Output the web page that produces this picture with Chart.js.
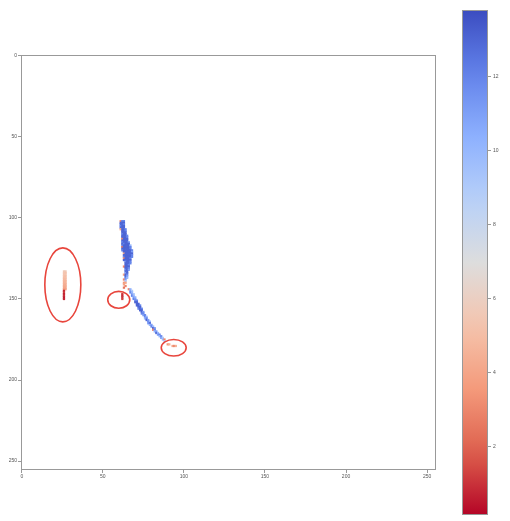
<!DOCTYPE html>
<html>
<head>
<meta charset="utf-8">
<script src="https://cdn.jsdelivr.net/npm/chart.js@4"></script>
<style>
  html, body { margin: 0; padding: 0; background: #fff; }
  #wrap { position: relative; width: 510px; height: 521px; }
  #main { position: absolute; left: 0; top: 0; }
  #bar { position: absolute; left: 440px; top: 0; }
</style>
</head>
<body>
<div id="wrap">
  <canvas id="main" width="440" height="521"></canvas>
  <canvas id="bar" width="70" height="521"></canvas>
</div>
<script>
// image pixels as [col, row, value]
const mainStreak = [
  [61,102,3],[62,102,12],[63,102,12],
  [61,103,13],[62,103,13],[63,103,13],
  [61,104,13],[62,104,13],[63,104,12],
  [61,105,12],[62,105,13],[63,105,13],
  [61,106,13],[62,106,13],[63,106,13],
  [61,107,4],[62,107,13],[63,107,13],[64,107,12],
  [62,108,13],[63,108,13],[64,108,12],
  [62,109,13],[63,109,13],[64,109,13],
  [62,110,12],[63,110,13],[64,110,13],
  [62,111,13],[63,111,13],[64,111,13],[65,111,12],
  [62,112,13],[63,112,13],[64,112,13],[65,112,12],
  [62,113,3],[63,113,13],[64,113,13],[65,113,13],
  [62,114,13],[63,114,13],[64,114,13],[65,114,13],
  [62,115,12],[63,115,13],[64,115,13],[65,115,13],[66,115,11],
  [62,116,13],[63,116,12],[64,116,13],[65,116,13],[66,116,13],
  [62,117,12],[63,117,13],[64,117,13],[65,117,13],[66,117,13],[67,117,10],
  [62,118,2.5],[63,118,13],[64,118,13],[65,118,13],[66,118,13],[67,118,12],
  [62,119,13],[63,119,13],[64,119,13],[65,119,13],[66,119,13],[67,119,12],
  [62,120,12],[63,120,13],[64,120,13],[65,120,13],[66,120,13],[67,120,13],[68,120,12],
  [63,121,13],[64,121,13],[65,121,13],[66,121,13],[67,121,13],[68,121,11],
  [63,122,4],[64,122,13],[65,122,13],[66,122,13],[67,122,13],[68,122,13],
  [63,123,13],[64,123,13],[65,123,13],[66,123,13],[67,123,13],[68,123,12],
  [63,124,12],[64,124,13],[65,124,13],[66,124,13],[67,124,13],[68,124,12],
  [63,125,3],[64,125,13],[65,125,13],[66,125,13],[67,125,12],
  [63,126,13],[64,126,13],[65,126,13],[66,126,13],[67,126,13],
  [64,127,12],[65,127,13],[66,127,13],[67,127,12],
  [64,128,13],[65,128,13],[66,128,13],[67,128,12],
  [64,129,13],[65,129,13],[66,129,12],
  [63,130,3],[64,130,13],[65,130,13],[66,130,13],
  [64,131,13],[65,131,13],[66,131,12],
  [64,132,12],[65,132,13],[66,132,11],
  [64,133,13],[65,133,13],
  [64,134,11],[65,134,13],
  [63,135,4],[64,135,13],[65,135,12],
  [64,136,13],[65,136,11],
  [64,137,12],[65,137,10],
  [63,138,3],[64,138,11],
  [64,139,9],
  [63,140,3.5],[64,140,4],
  [63,141,4],
  [64,142,3],
  [63,143,2.5]
]

const branch = [
  [66,144,3],[67,144,10],
  [67,145,11],[68,145,9],
  [67,146,12],[68,146,10],
  [68,147,11],[69,147,9],
  [68,148,12],[69,148,10],
  [69,149,11],[70,149,10],
  [69,150,12],[70,150,11],
  [70,151,12],[71,151,12],
  [70,152,13],[71,152,13],
  [71,153,13],[72,153,13],
  [71,154,13],[72,154,13],[73,154,12],
  [72,155,13],[73,155,13],
  [72,156,12],[73,156,13],[74,156,12],
  [73,157,13],[74,157,13],
  [74,158,13],[75,158,11],
  [74,159,12],[75,159,12],
  [75,160,11],[76,160,12],
  [76,161,12],[77,161,10],
  [76,162,10],[77,162,12],
  [77,163,13],[78,163,11],
  [78,164,12],[79,164,10],
  [78,165,11],[79,165,13],
  [79,166,10],[80,166,11],
  [80,167,12],[81,167,10],
  [81,168,13],[82,168,11],
  [81,169,3],[82,169,12],
  [82,170,10],[83,170,11],
  [83,171,13],[84,171,10],
  [84,172,11],[85,172,12],
  [85,173,10],[86,173,12],
  [86,174,11],[87,174,9],
  [87,175,10],[88,175,3],
  [88,176,9]
]

const rightDots = [
  [90,178,3.5],[91,178,4.5],[93,179,4],[94,179,3],[95,179,4.5]
]

const leftBar = [
  [26,133,5.6],[27,133,5.6],
  [26,134,5.5],[27,134,5.2],
  [26,135,5.3],[27,135,5.4],
  [26,136,5.2],[27,136,5],
  [26,137,5],[27,137,5.1],
  [26,138,4.8],[27,138,4.9],
  [26,139,4.7],[27,139,4.6],
  [26,140,4.5],[27,140,4.6],
  [26,141,4.4],[27,141,4.3],
  [26,142,4.2],[27,142,4.3],
  [26,143,4],[27,143,4.1],
  [26,144,3.6],[27,144,3.8],
  [26,145,0.8],
  [26,146,1.2],
  [26,147,0.7],
  [26,148,1],
  [26,149,0.6],
  [26,150,0.8]
]

const middleMark = [
  [62,147,1.2],[62,148,0.8],[62,149,1],[62,150,1.3]
]

// red annotation ellipses: centre and radii in image units
const rings = [
  { x: 25.3, y: 141.3, rx: 11.1, ry: 22.8 },
  { x: 59.8, y: 150.5, rx: 6.8, ry: 5.2 },
  { x: 93.7, y: 180.1, rx: 7.7, ry: 5.1 }
]

const axisTicks = [0, 50, 100, 150, 200, 250]
const barTicks = [2, 4, 6, 8, 10, 12]
const vMin = 0.15
const vMax = 13.8

// coolwarm, blue -> red
const coolwarm = [
  [59,76,192],[98,130,234],[141,176,254],[184,208,249],
  [221,221,221],[245,196,173],[244,154,123],[222,96,77],[180,4,38]
]

function cmap(v) {
  // reversed: low values red, high values blue
  let t = 1 - (v - vMin) / (vMax - vMin)
  t = Math.max(0, Math.min(1, t))
  const p = t * (coolwarm.length - 1)
  const i = Math.min(Math.floor(p), coolwarm.length - 2)
  const f = p - i
  const a = coolwarm[i], b = coolwarm[i + 1]
  const c = a.map((k, j) => Math.round(k + (b[j] - k) * f))
  return `rgb(${c[0]},${c[1]},${c[2]})`
}

const pixels = [...mainStreak, ...branch, ...rightDots, ...leftBar, ...middleMark]
  .map(([x, y, v]) => ({ x, y, v }))

const tickColor = '#555'
const lineColor = '#999'

const frame = {
  id: 'frame',
  afterDatasetsDraw(chart) {
    const { ctx, chartArea, scales } = chart
    ctx.save()
    ctx.strokeStyle = lineColor
    ctx.lineWidth = 1
    ctx.strokeRect(chartArea.left + 0.5, chartArea.top + 0.5,
      chartArea.right - chartArea.left - 1, chartArea.bottom - chartArea.top - 1)

    ctx.strokeStyle = '#e8453c'
    ctx.lineWidth = 1.6
    rings.forEach((r) => {
      const cx = scales.x.getPixelForValue(r.x)
      const cy = scales.y.getPixelForValue(r.y)
      const rx = Math.abs(scales.x.getPixelForValue(r.x + r.rx) - cx)
      const ry = Math.abs(scales.y.getPixelForValue(r.y + r.ry) - cy)
      ctx.beginPath()
      ctx.ellipse(cx, cy, rx, ry, 0, 0, Math.PI * 2)
      ctx.stroke()
    })
    ctx.restore()
  },
}

new Chart(document.getElementById('main').getContext('2d'), {
  type: 'scatter',
  data: {
    datasets: [{
      data: pixels,
      pointStyle: 'rect',
      pointRadius: 1.6,
      pointBorderWidth: 0,
      pointBackgroundColor: pixels.map((p) => cmap(p.v)),
    }],
  },
  options: {
    responsive: false,
    animation: false,
    layout: { padding: { top: 55, right: 3, left: 0, bottom: 0 } },
    plugins: { legend: { display: false }, tooltip: { enabled: false } },
    scales: {
      x: {
        type: 'linear',
        min: -0.5,
        max: 255.5,
        grid: { drawOnChartArea: false, drawTicks: true, tickLength: 3, color: lineColor },
        border: { display: false },
        ticks: { font: { size: 5 }, color: tickColor, padding: 1, maxRotation: 0, autoSkip: false },
        afterBuildTicks: (axis) => { axis.ticks = axisTicks.map((v) => ({ value: v })) },
        afterFit: (axis) => { axis.height = 51 },
      },
      y: {
        type: 'linear',
        reverse: true,
        min: -0.5,
        max: 255.5,
        grid: { drawOnChartArea: false, drawTicks: true, tickLength: 3, color: lineColor },
        border: { display: false },
        ticks: { font: { size: 5 }, color: tickColor, padding: 1, autoSkip: false },
        afterBuildTicks: (axis) => { axis.ticks = axisTicks.map((v) => ({ value: v })) },
        afterFit: (axis) => { axis.width = 21 },
      },
    },
  },
  plugins: [frame],
})

// colour bar
const barFrame = {
  id: 'barFrame',
  afterDatasetsDraw(chart) {
    const { ctx, chartArea } = chart
    ctx.save()
    ctx.strokeStyle = lineColor
    ctx.lineWidth = 1
    ctx.strokeRect(chartArea.left + 0.5, chartArea.top + 0.5,
      chartArea.right - chartArea.left - 1, chartArea.bottom - chartArea.top - 1)
    ctx.restore()
  },
}

new Chart(document.getElementById('bar').getContext('2d'), {
  type: 'bar',
  data: {
    labels: [''],
    datasets: [{
      data: [[vMin, vMax]],
      borderWidth: 0,
      barPercentage: 1,
      categoryPercentage: 1,
      backgroundColor: (context) => {
        const { chart } = context
        const area = chart.chartArea
        if (!area) return '#ccc'
        const g = chart.ctx.createLinearGradient(0, area.bottom, 0, area.top)
        for (let k = 0; k <= 20; k++) {
          const v = vMin + (vMax - vMin) * k / 20
          g.addColorStop(k / 20, cmap(v))
        }
        return g
      },
    }],
  },
  options: {
    responsive: false,
    animation: false,
    layout: { padding: { top: 10, bottom: 6, left: 22, right: 0 } },
    plugins: { legend: { display: false }, tooltip: { enabled: false } },
    scales: {
      x: { display: false },
      y: {
        position: 'right',
        min: vMin,
        max: vMax,
        grid: { drawOnChartArea: false, drawTicks: true, tickLength: 3, color: lineColor },
        border: { display: false },
        ticks: { font: { size: 5 }, color: tickColor, padding: 2 },
        afterBuildTicks: (axis) => { axis.ticks = barTicks.map((v) => ({ value: v })) },
        afterFit: (axis) => { axis.width = 22 },
      },
    },
  },
  plugins: [barFrame],
})
</script>
</body>
</html>
